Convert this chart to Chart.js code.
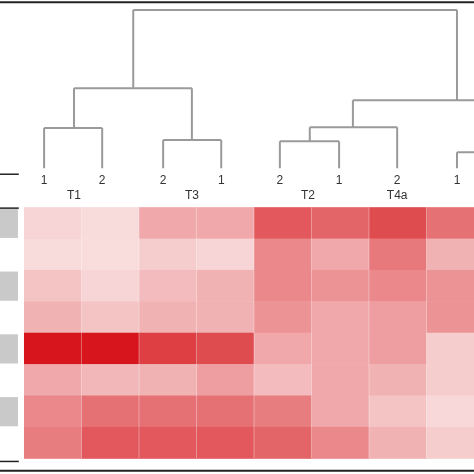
<!DOCTYPE html>
<html>
<head>
<meta charset="utf-8">
<script src="https://cdn.jsdelivr.net/npm/chart.js@4.4.0/dist/chart.umd.min.js"></script>
<style>
  html, body { margin: 0; padding: 0; background: #fff; }
  #wrap { width: 474px; height: 474px; }
</style>
</head>
<body>
<div id="wrap"><canvas id="heat"></canvas></div>
<script>
// Column leaf labels and group labels
const leafLabels = ['1', '2', '2', '1', '2', '1', '2', '1'];
const leafX = [0.35, 1.36, 2.42, 3.43, 4.45, 5.48, 6.49, 7.53];
const groupLabels = ['T1', 'T3', 'T2', 'T4a'];
const groupX = [0.87, 2.92, 4.94, 6.49];

// Intensity per row (top to bottom), 8 columns each
const row1 = [0.15, 0.10, 0.40, 0.40, 0.75, 0.70, 0.80, 0.65];
const row2 = [0.10, 0.08, 0.20, 0.15, 0.55, 0.40, 0.62, 0.35];
const row3 = [0.25, 0.15, 0.30, 0.35, 0.55, 0.50, 0.55, 0.50];
const row4 = [0.35, 0.25, 0.35, 0.35, 0.50, 0.40, 0.45, 0.50];
const row5 = [1.00, 1.00, 0.85, 0.80, 0.40, 0.40, 0.45, 0.20];
const row6 = [0.40, 0.32, 0.35, 0.45, 0.30, 0.40, 0.35, 0.20];
const row7 = [0.55, 0.65, 0.65, 0.65, 0.60, 0.40, 0.25, 0.12];
const row8 = [0.60, 0.75, 0.75, 0.75, 0.70, 0.55, 0.35, 0.20];
const rows = [row1, row2, row3, row4, row5, row6, row7, row8];

// Dendrogram segments [x1, y1, x2, y2] in column / row units
const dendroSegments = [
  [0.35, -1.24, 0.35, -2.52], [0.35, -2.52, 1.36, -2.52], [1.36, -2.52, 1.36, -1.24],
  [2.42, -1.24, 2.42, -2.14], [2.42, -2.14, 3.43, -2.14], [3.43, -2.14, 3.43, -1.24],
  [0.87, -2.52, 0.87, -3.79], [0.87, -3.79, 2.92, -3.79], [2.92, -3.79, 2.92, -2.14],
  [1.90, -3.79, 1.90, -6.28], [1.90, -6.28, 7.53, -6.28], [7.53, -6.28, 7.53, -3.41],
  [5.72, -3.41, 8.00, -3.41], [5.72, -3.41, 5.72, -2.55],
  [4.97, -2.55, 6.49, -2.55], [6.49, -2.55, 6.49, -1.24],
  [4.97, -2.55, 4.97, -2.10], [4.45, -2.10, 5.48, -2.10],
  [4.45, -2.10, 4.45, -1.24], [5.48, -2.10, 5.48, -1.24],
  [7.53, -1.24, 7.53, -1.75], [7.53, -1.75, 8.00, -1.75]
];

function cellColor(v) {
  const lo = [250, 228, 228], hi = [214, 22, 28];
  const t = Math.pow(v, 1.35);
  const c = lo.map((l, i) => Math.round(l + (hi[i] - l) * t));
  return `rgb(${c[0]},${c[1]},${c[2]})`;
}

const dendroPoints = [];
dendroSegments.forEach(s => {
  dendroPoints.push({ x: s[0], y: s[1] }, { x: s[2], y: s[3] }, { x: NaN, y: NaN });
});

const heatPlugin = {
  id: 'heatCells',
  beforeDatasetsDraw(chart) {
    const { ctx, scales: { x, y } } = chart;
    ctx.save();
    rows.forEach((row, r) => {
      row.forEach((v, c) => {
        const x0 = x.getPixelForValue(c), x1 = x.getPixelForValue(c + 1);
        const y0 = y.getPixelForValue(r), y1 = y.getPixelForValue(r + 1);
        ctx.fillStyle = cellColor(v);
        ctx.fillRect(x0, y0, x1 - x0 + 0.5, y1 - y0 + 0.5);
      });
    });
    // thin separators between cells
    ctx.strokeStyle = 'rgba(255,255,255,0.35)';
    ctx.lineWidth = 1;
    for (let c = 1; c < 8; c++) {
      const px = x.getPixelForValue(c);
      ctx.beginPath(); ctx.moveTo(px, y.getPixelForValue(0)); ctx.lineTo(px, y.getPixelForValue(8)); ctx.stroke();
    }
    // side annotation boxes
    ctx.fillStyle = '#c9c9c9';
    [0, 2, 4, 6].forEach(r => {
      const y0 = y.getPixelForValue(r + 0.05), y1 = y.getPixelForValue(r + 0.98);
      ctx.fillRect(x.getPixelForValue(-0.42), y0, x.getPixelForValue(-0.105) - x.getPixelForValue(-0.42), y1 - y0);
    });
    // frame lines
    ctx.strokeStyle = '#222';
    ctx.lineWidth = 2;
    [[-6.53, 8.0], [8.4, 8.0]].forEach(([yy, xe]) => {
      ctx.beginPath(); ctx.moveTo(0, y.getPixelForValue(yy)); ctx.lineTo(x.getPixelForValue(xe), y.getPixelForValue(yy)); ctx.stroke();
    });
    ctx.lineWidth = 1.5;
    [-1.05, 0.03, 8.1].forEach(yy => {
      ctx.beginPath(); ctx.moveTo(0, y.getPixelForValue(yy)); ctx.lineTo(x.getPixelForValue(-0.09), y.getPixelForValue(yy)); ctx.stroke();
    });
    // labels
    ctx.fillStyle = '#333';
    ctx.textAlign = 'center';
    ctx.textBaseline = 'middle';
    ctx.font = '12px "Liberation Sans", Arial, sans-serif';
    leafLabels.forEach((t, i) => ctx.fillText(t, x.getPixelForValue(leafX[i]), y.getPixelForValue(-0.83)));
    groupLabels.forEach((t, i) => ctx.fillText(t, x.getPixelForValue(groupX[i]), y.getPixelForValue(-0.38)));
    ctx.restore();
  }
};

new Chart(document.getElementById('heat'), {
  type: 'scatter',
  data: {
    datasets: [{
      data: dendroPoints,
      showLine: true,
      spanGaps: false,
      borderColor: '#9a9a9a',
      borderWidth: 2,
      pointRadius: 0
    }]
  },
  options: {
    responsive: true,
    maintainAspectRatio: false,
    animation: false,
    layout: { padding: 0 },
    plugins: { legend: { display: false }, tooltip: { enabled: false } },
    scales: {
      x: { type: 'linear', min: -0.417, max: 7.826, display: false },
      y: { type: 'linear', min: -6.6, max: 8.5, reverse: true, display: false }
    }
  },
  plugins: [heatPlugin]
});
</script>
</body>
</html>
